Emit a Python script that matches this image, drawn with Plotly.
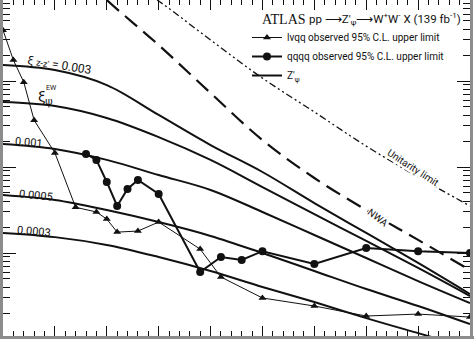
import plotly.graph_objects as go

# Observed 95% C.L. upper limits on sigma x BR (pb) versus Z' mass (TeV)
m_lvqq = [0.5, 0.6, 0.7, 0.8, 1.0, 1.2, 1.4, 1.5, 1.6, 1.8, 2.0, 2.4, 2.6, 3.0, 3.5, 4.0, 4.5, 5.0]
sig_lvqq = [0.39, 0.175, 0.097, 0.035, 0.0146, 0.0034, 0.0030, 0.00248, 0.00175, 0.0018,
            0.00229, 0.00111, 0.000526, 0.0003, 0.000242, 0.000185, 0.000195, 0.00018]

m_qqqq = [1.3, 1.4, 1.5, 1.6, 1.7, 1.8, 2.0, 2.4, 2.6, 2.8, 3.0, 3.5, 4.0, 4.5, 5.0]
sig_qqqq = [0.0142, 0.0121, 0.0067, 0.00352, 0.00555, 0.00706, 0.00485, 0.0006, 0.0009,
            0.00083, 0.00105, 0.000745, 0.00114, 0.00105, 0.001]

# Z'_psi theory predictions for several Z-Z' mixing values
m_th = [0.5, 1.0, 1.5, 2.0, 2.5, 3.0, 3.5, 4.0, 4.5, 5.0]
sig_xi_0003 = [0.1535, 0.134, 0.0897, 0.0403, 0.0180, 0.00875, 0.00381, 0.00171, 0.000766, 0.000333]
sig_xi_ew = [0.0570, 0.0512, 0.0372, 0.0223, 0.0121, 0.00585, 0.00284, 0.00138, 0.00067, 0.000316]
sig_xi_001 = [0.0185, 0.0162, 0.0121, 0.00807, 0.00541, 0.0030, 0.00162, 0.000875, 0.000472, 0.000262]
sig_xi_00005 = [0.00472, 0.00413, 0.00316, 0.00229, 0.00158, 0.0010, 0.000618, 0.000381, 0.000242, 0.000149]
sig_xi_00003 = [0.00171, 0.00153, 0.00124, 0.000898, 0.000618, 0.000403, 0.000269, 0.000175, 0.000117, 0.0000786]

# Narrow-width-approximation and unitarity boundaries
m_nwa = [1.0, 1.5, 2.0, 2.5, 3.0, 3.5, 4.0, 4.5, 5.0]
sig_nwa = [3.3, 0.875, 0.262, 0.0724, 0.0206, 0.00745, 0.00316, 0.00142, 0.000634]
m_unit = [1.5, 2.0, 2.5, 3.0, 3.5, 4.0, 4.5, 5.0]
sig_unit = [2.12, 0.851, 0.300, 0.108, 0.0437, 0.0175, 0.00766, 0.00352]

INK = "#111111"
fig = go.Figure()

theory = [sig_xi_0003, sig_xi_ew, sig_xi_001, sig_xi_00005, sig_xi_00003]
for i, s in enumerate(theory):
    fig.add_trace(go.Scatter(
        x=m_th, y=s, mode="lines", line=dict(color=INK, width=2, shape="spline"),
        name="Z'<sub>ψ</sub>", showlegend=(i == 0), legendrank=3))

fig.add_trace(go.Scatter(
    x=m_nwa, y=sig_nwa, mode="lines", showlegend=False,
    line=dict(color=INK, width=2.2, dash="16px,8px", shape="spline")))
fig.add_trace(go.Scatter(
    x=m_unit, y=sig_unit, mode="lines", showlegend=False,
    line=dict(color=INK, width=1.3, dash="7px,3px,2px,3px,2px,3px", shape="spline")))

fig.add_trace(go.Scatter(
    x=m_lvqq, y=sig_lvqq, mode="lines+markers", legendrank=1,
    name="lvqq observed 95% C.L. upper limit",
    line=dict(color=INK, width=1),
    marker=dict(symbol="triangle-up", size=7, color=INK)))
fig.add_trace(go.Scatter(
    x=m_qqqq, y=sig_qqqq, mode="lines+markers", legendrank=2,
    name="qqqq observed 95% C.L. upper limit",
    line=dict(color=INK, width=2),
    marker=dict(symbol="circle", size=8, color=INK)))

SANS = "Roboto, Open Sans, sans-serif"

def label(x, y, text, angle=0, size=11, bg=None):
    fig.add_annotation(x=x, y=y, xref="paper", yref="paper", text=text, showarrow=False,
                       textangle=angle, font=dict(family=SANS, size=size, color=INK),
                       bgcolor=bg, xanchor="center", yanchor="middle", borderpad=0)

W, H, L, T = 467.0, 336.0, 3.0, 0.0
def px(xp, yp):
    return (xp - L) / W, 1 - (yp - T) / H

label(*px(59, 66), "ξ <span style='font-size:9px'>z-z'</span> = 0.003", angle=9, size=12)
label(*px(45, 98), "ξ<sub>ψ</sub>", size=15)
label(*px(51, 88), "EW", size=7)
label(*px(29, 142), "0.001", angle=5, size=11)
label(*px(36, 195), "0.0005", angle=6, size=11)
label(*px(34, 231), "0.0003", angle=5, size=11)
label(*px(378, 217), "NWA", angle=38, size=10, bg="white")
label(*px(413, 167), "Unitarity limit", angle=33, size=10, bg="white")

fig.add_annotation(x=px(260, 19)[0], y=px(260, 19)[1], xref="paper", yref="paper",
                   text="ATLAS", showarrow=False, xanchor="left", yanchor="middle",
                   font=dict(family="Liberation Serif, serif", size=14, color=INK))
fig.add_annotation(x=px(307, 19)[0], y=px(307, 19)[1], xref="paper", yref="paper",
                   text="pp ⟶Z'<sub>ψ</sub>⟶W<sup>+</sup>W<sup>-</sup> X (139 fb<sup>-1</sup>)",
                   showarrow=False, xanchor="left", yanchor="middle",
                   font=dict(family=SANS, size=11.5, color=INK))

FRAME = "#8c8c8c"
tick_common = dict(showgrid=False, zeroline=False, showticklabels=False,
                   mirror="ticks", ticks="inside", tickcolor=INK)

# x axis: ticks on bottom and top, frame line only at the bottom
fig.update_xaxes(range=[0.5, 5.0], dtick=0.5, tick0=0, ticklen=10, tickwidth=1,
                 showline=False,
                 minor=dict(ticks="inside", dtick=0.1, ticklen=5, tickcolor=INK),
                 **tick_common)
fig.update_yaxes(type="log", range=[-3.965, -0.058], dtick=1, ticklen=13, tickwidth=1,
                 showline=True, linecolor=FRAME, linewidth=3,
                 minor=dict(ticks="inside", dtick="D1", ticklen=7, tickcolor=INK),
                 **tick_common)

fig.add_shape(type="line", xref="paper", yref="paper", ysizemode="pixel", yanchor=0,
              x0=-0.01, x1=1.01, y0=-1.5, y1=-1.5, line=dict(color=FRAME, width=3),
              layer="above")

fig.update_layout(
    width=474, height=339,
    margin=dict(l=3, r=4, t=0, b=3),
    paper_bgcolor="white", plot_bgcolor="white",
    legend=dict(x=px(247, 0)[0], y=px(0, 23)[1], xanchor="left", yanchor="top",
                bgcolor="rgba(0,0,0,0)", font=dict(family=SANS, size=10, color=INK),
                itemwidth=30, tracegroupgap=0),
)

fig.write_html("out.html")
